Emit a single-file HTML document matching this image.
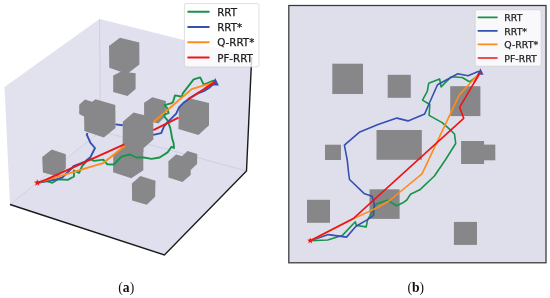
<!DOCTYPE html>
<html><head><meta charset="utf-8"><title>RRT comparison</title>
<style>html,body{margin:0;padding:0;background:#fff}svg{display:block}text{font-family:"DejaVu Sans","Liberation Sans",sans-serif;fill:#1c1c1c}.cap{font-family:"Liberation Serif","DejaVu Serif",serif;fill:#111}</style></head><body>
<svg width="550" height="298" viewBox="0 0 550 298">
<rect width="550" height="298" fill="#fff"/>
<polygon points="4.5,87.0 99.5,19.0 100.5,131.0 10.0,204.5" fill="#e2e2ef"/>
<polygon points="99.5,19.0 251.7,57.0 246.5,171.0 100.5,131.0" fill="#e0e0ee"/>
<polygon points="10.0,204.5 100.5,131.0 246.5,171.0 164.4,255.0" fill="#dfdfee"/>
<line x1="99.5" y1="19" x2="100.5" y2="131" stroke="#c4c4e0" stroke-width="0.7"/>
<line x1="10" y1="204.5" x2="100.5" y2="131" stroke="#c4c4e0" stroke-width="0.7"/>
<line x1="100.5" y1="131" x2="246.5" y2="171" stroke="#c4c4e0" stroke-width="0.7"/>
<polyline points="10.0,204.5 164.4,255.0 246.5,171.0 251.7,57.0" fill="none" stroke="#1a1a1a" stroke-width="1.4" stroke-linejoin="miter"/>
<polygon points="120.0,37.7 139.3,42.4 139.4,64.6 127.0,74.0 109.3,67.8 109.0,46.0" fill="#88888a"/>
<polygon points="113.2,75.4 121.0,71.5 135.6,73.2 135.6,89.1 127.5,96.1 113.2,92.0" fill="#88888a"/>
<polygon points="79.2,104.7 85.0,99.6 96.0,103.0 96.0,115.0 84.0,116.5 79.2,114.0" fill="#88888a"/>
<polygon points="95.5,99.2 115.3,105.0 115.5,127.9 103.8,137.4 84.3,131.0 84.0,108.0" fill="#88888a"/>
<polygon points="152.4,97.2 165.8,100.9 165.8,115.7 158.3,123.6 144.1,119.5 144.1,102.8" fill="#88888a"/>
<polygon points="133.6,112.5 153.3,117.4 153.3,139.5 143.3,148.5 143.3,152.0 122.6,152.0 122.8,121.7" fill="#88888a"/>
<polygon points="113.3,154.7 122.6,146.5 143.3,148.3 143.3,170.2 131.3,178.3 113.1,172.3" fill="#88888a"/>
<polygon points="140.4,176.1 155.5,180.8 155.1,196.8 146.8,204.7 132.1,200.4 131.9,183.4" fill="#88888a"/>
<polygon points="187.5,151.1 197.3,153.9 197.1,164.1 190.7,169.9 182.4,167.0 182.4,155.8" fill="#88888a"/>
<polygon points="176.0,154.6 190.7,158.5 190.7,175.0 182.4,182.0 168.4,177.5 168.4,161.3" fill="#88888a"/>
<polygon points="189.2,98.3 209.0,103.1 209.0,125.3 198.4,134.9 178.4,128.9 179.0,107.2" fill="#88888a"/>
<polygon points="51.8,149.5 65.8,154.2 65.8,168.6 57.5,176.6 42.9,172.4 42.2,157.1" fill="#88888a"/>
<polyline points="37.3,182.8 46.7,181.1 52.4,182.8 58.2,179.2 67.7,179.9 74.0,176.5 73.8,170.5 79.1,172.8 82.2,166.0 88.7,158.7 94.2,160.9 103.3,159.6 107.3,164.4 113.8,164.5 121.5,156.7 129.8,154.5 136.4,157.5 143.6,157.5 151.6,158.9 159.6,157.5 167.6,152.4 171.5,146.8 174.0,148.0 173.6,143.0 172.3,139.1 170.3,128.1 167.3,120.0 165.1,117.7 163.6,114.6 168.6,113.1 167.1,108.1 164.6,105.1 171.7,103.1 173.0,102.0 175.0,95.4 182.1,96.7 182.6,93.7 193.7,79.4 200.2,77.4 203.7,84.6 213.5,80.6 215.5,81.8" fill="none" stroke="#17934a" stroke-width="1.9" stroke-linejoin="round" stroke-linecap="butt"/>
<polyline points="37.3,182.8 56.9,179.2 62.0,177.7 72.2,167.8 73.6,166.1 85.1,161.6 90.2,157.6 95.0,148.0 90.5,142.8 86.7,134.5 87.7,133.2" fill="none" stroke="#3450b2" stroke-width="1.9" stroke-linejoin="round" stroke-linecap="butt"/>
<polyline points="115.5,124.4 122.7,125.2" fill="none" stroke="#3450b2" stroke-width="1.9" stroke-linejoin="round" stroke-linecap="butt"/>
<polyline points="153.2,134.9 161.2,133.1 164.2,126.0 167.6,122.2 176.2,113.6 179.2,107.1 183.2,103.1 188.0,99.4 198.0,93.3 204.2,90.9 209.3,87.7 215.5,81.8" fill="none" stroke="#3450b2" stroke-width="1.9" stroke-linejoin="round" stroke-linecap="butt"/>
<polyline points="37.3,182.8 103.0,163.2 125.2,145.4" fill="none" stroke="#ff8c1a" stroke-width="1.9" stroke-linejoin="round" stroke-linecap="butt"/>
<polyline points="153.3,122.3 191.7,89.1 215.5,81.8" fill="none" stroke="#ff8c1a" stroke-width="1.9" stroke-linejoin="round" stroke-linecap="butt"/>
<polyline points="37.3,182.8 45.5,179.8 124.3,144.3" fill="none" stroke="#ec1518" stroke-width="1.9" stroke-linejoin="round" stroke-linecap="butt"/>
<polyline points="153.3,130.2 178.5,117.6" fill="none" stroke="#ec1518" stroke-width="1.9" stroke-linejoin="round" stroke-linecap="butt"/>
<polyline points="188.3,99.0 215.5,81.8" fill="none" stroke="#ec1518" stroke-width="1.9" stroke-linejoin="round" stroke-linecap="butt"/>
<polygon points="37.3,179.2 38.2,181.6 40.7,181.7 38.7,183.3 39.4,185.7 37.3,184.3 35.2,185.7 35.9,183.3 33.9,181.7 36.4,181.6" fill="#ec1518"/>
<polygon points="215.3,77.9 211.7,85.6 218.9,85.6" fill="#3450b2"/>
<polyline points="205.0,88.3 215.5,81.8" fill="none" stroke="#ec1518" stroke-width="1.9" stroke-linejoin="round" stroke-linecap="butt"/>
<rect x="184.4" y="3.5" width="74.6" height="63.4" rx="2" ry="2" fill="#fff" fill-opacity="0.8" stroke="#ccc" stroke-opacity="0.8" stroke-width="0.8"/><line x1="188.2" y1="11.8" x2="208.8" y2="11.8" stroke="#17934a" stroke-width="1.9" stroke-linecap="round"/><text x="217.2" y="15.92" font-size="10.3" stroke="#222" stroke-width="0.25">RRT</text><line x1="188.2" y1="27.0" x2="208.8" y2="27.0" stroke="#3450b2" stroke-width="1.9" stroke-linecap="round"/><text x="217.2" y="31.12" font-size="10.3" stroke="#222" stroke-width="0.25">RRT*</text><line x1="188.2" y1="42.3" x2="208.8" y2="42.3" stroke="#ff8c1a" stroke-width="1.9" stroke-linecap="round"/><text x="217.2" y="46.42" font-size="10.3" stroke="#222" stroke-width="0.25">Q-RRT*</text><line x1="188.2" y1="57.55" x2="208.8" y2="57.55" stroke="#ec1518" stroke-width="1.9" stroke-linecap="round"/><text x="217.2" y="61.67" font-size="10.3" stroke="#222" stroke-width="0.25">PF-RRT</text>
<rect x="288.8" y="5.5" width="257.2" height="257.3" fill="#dfdfec" stroke="#383838" stroke-width="1.25"/>
<rect x="332.3" y="63.7" width="30.7" height="30.3" fill="#87878a"/>
<rect x="387.7" y="74.8" width="23.1" height="23.0" fill="#87878a"/>
<rect x="450.2" y="86.2" width="30.2" height="29.9" fill="#87878a"/>
<rect x="376.5" y="130" width="45.3" height="29.8" fill="#87878a"/>
<rect x="461.1" y="141" width="23.0" height="23.0" fill="#87878a"/>
<rect x="479.6" y="144.6" width="15.7" height="15.7" fill="#87878a"/>
<rect x="325" y="144.7" width="16.0" height="15.3" fill="#87878a"/>
<rect x="369.5" y="189.3" width="30.1" height="29.6" fill="#87878a"/>
<rect x="307" y="199.8" width="23.0" height="23.0" fill="#87878a"/>
<rect x="453.9" y="221.9" width="23.1" height="23.0" fill="#87878a"/>
<polyline points="310.2,240.7 327.6,240.0 342.2,235.6 355.3,221.8 356.4,225.5 366.2,226.9 367.6,219.6 371.3,213.8 373.5,208.0 376.4,204.0 387.3,200.3 396.7,205.7 403.8,202.2 406.8,200.0 410.5,194.2 419.8,189.8 434.4,176.0 445.3,160.0 455.7,143.5 454.5,134.0 449.5,129.2 442.2,122.6 429.1,115.4 429.8,104.5 422.5,100.1 427.3,91.3 428.7,83.3 439.6,78.9 441.1,86.9 451.3,76.7 462.2,77.5 469.5,81.8 476.7,76.7 480.4,72.0" fill="none" stroke="#17934a" stroke-width="1.6" stroke-linejoin="round" stroke-linecap="butt"/>
<polyline points="310.2,240.7 328.4,234.6 346.5,237.1 356.0,226.2 367.6,219.6 373.5,215.3 374.2,204.4 373.7,201.4 372.0,196.3 364.0,193.4 349.5,179.5 348.5,172.0 347.3,160.5 344.4,145.2 359.8,131.9 378.0,124.6 396.9,118.1 408.0,120.9 424.7,113.9 428.4,105.2 437.5,84.7 451.3,77.2 457.8,73.8 468.0,75.7 478.2,71.6 480.4,72.0" fill="none" stroke="#3450b2" stroke-width="1.6" stroke-linejoin="round" stroke-linecap="butt"/>
<polyline points="310.2,240.7 353.8,218.6 378.0,207.3 389.0,201.0 422.0,173.8 459.3,94.9 468.0,85.5 480.4,72.0" fill="none" stroke="#ff8c1a" stroke-width="1.6" stroke-linejoin="round" stroke-linecap="butt"/>
<polyline points="310.2,240.7 353.8,218.2 463.7,118.3 459.6,107.4 480.4,72.0" fill="none" stroke="#ec1518" stroke-width="1.6" stroke-linejoin="round" stroke-linecap="butt"/>
<polygon points="310.2,237.4 311.0,239.6 313.3,239.7 311.5,241.1 312.1,243.4 310.2,242.0 308.3,243.4 308.9,241.1 307.1,239.7 309.4,239.6" fill="#ec1518"/>
<polygon points="480.4,68.3 477.2,74.7 483.6,74.7" fill="#3450b2"/>
<polyline points="474.0,82.9 480.4,72.0" fill="none" stroke="#ec1518" stroke-width="1.6" stroke-linejoin="round" stroke-linecap="butt"/>
<rect x="475.2" y="9.8" width="65.9" height="56.4" rx="2" ry="2" fill="#fff" fill-opacity="0.8" stroke="#ccc" stroke-opacity="0.8" stroke-width="0.8"/><line x1="478.3" y1="17.4" x2="497.0" y2="17.4" stroke="#17934a" stroke-width="1.6" stroke-linecap="round"/><text x="504.3" y="21.16" font-size="9.4" stroke="#222" stroke-width="0.25">RRT</text><line x1="478.3" y1="30.9" x2="497.0" y2="30.9" stroke="#3450b2" stroke-width="1.6" stroke-linecap="round"/><text x="504.3" y="34.66" font-size="9.4" stroke="#222" stroke-width="0.25">RRT*</text><line x1="478.3" y1="44.4" x2="497.0" y2="44.4" stroke="#ff8c1a" stroke-width="1.6" stroke-linecap="round"/><text x="504.3" y="48.16" font-size="9.4" stroke="#222" stroke-width="0.25">Q-RRT*</text><line x1="478.3" y1="58.0" x2="497.0" y2="58.0" stroke="#ec1518" stroke-width="1.6" stroke-linecap="round"/><text x="504.3" y="61.76" font-size="9.4" stroke="#222" stroke-width="0.25">PF-RRT</text>
<text class="cap" x="118.3" y="292.2" font-size="13.6">(<tspan font-weight="bold">a</tspan>)</text>
<text class="cap" x="407.4" y="292.2" font-size="13.6">(<tspan font-weight="bold">b</tspan>)</text>
</svg></body></html>
